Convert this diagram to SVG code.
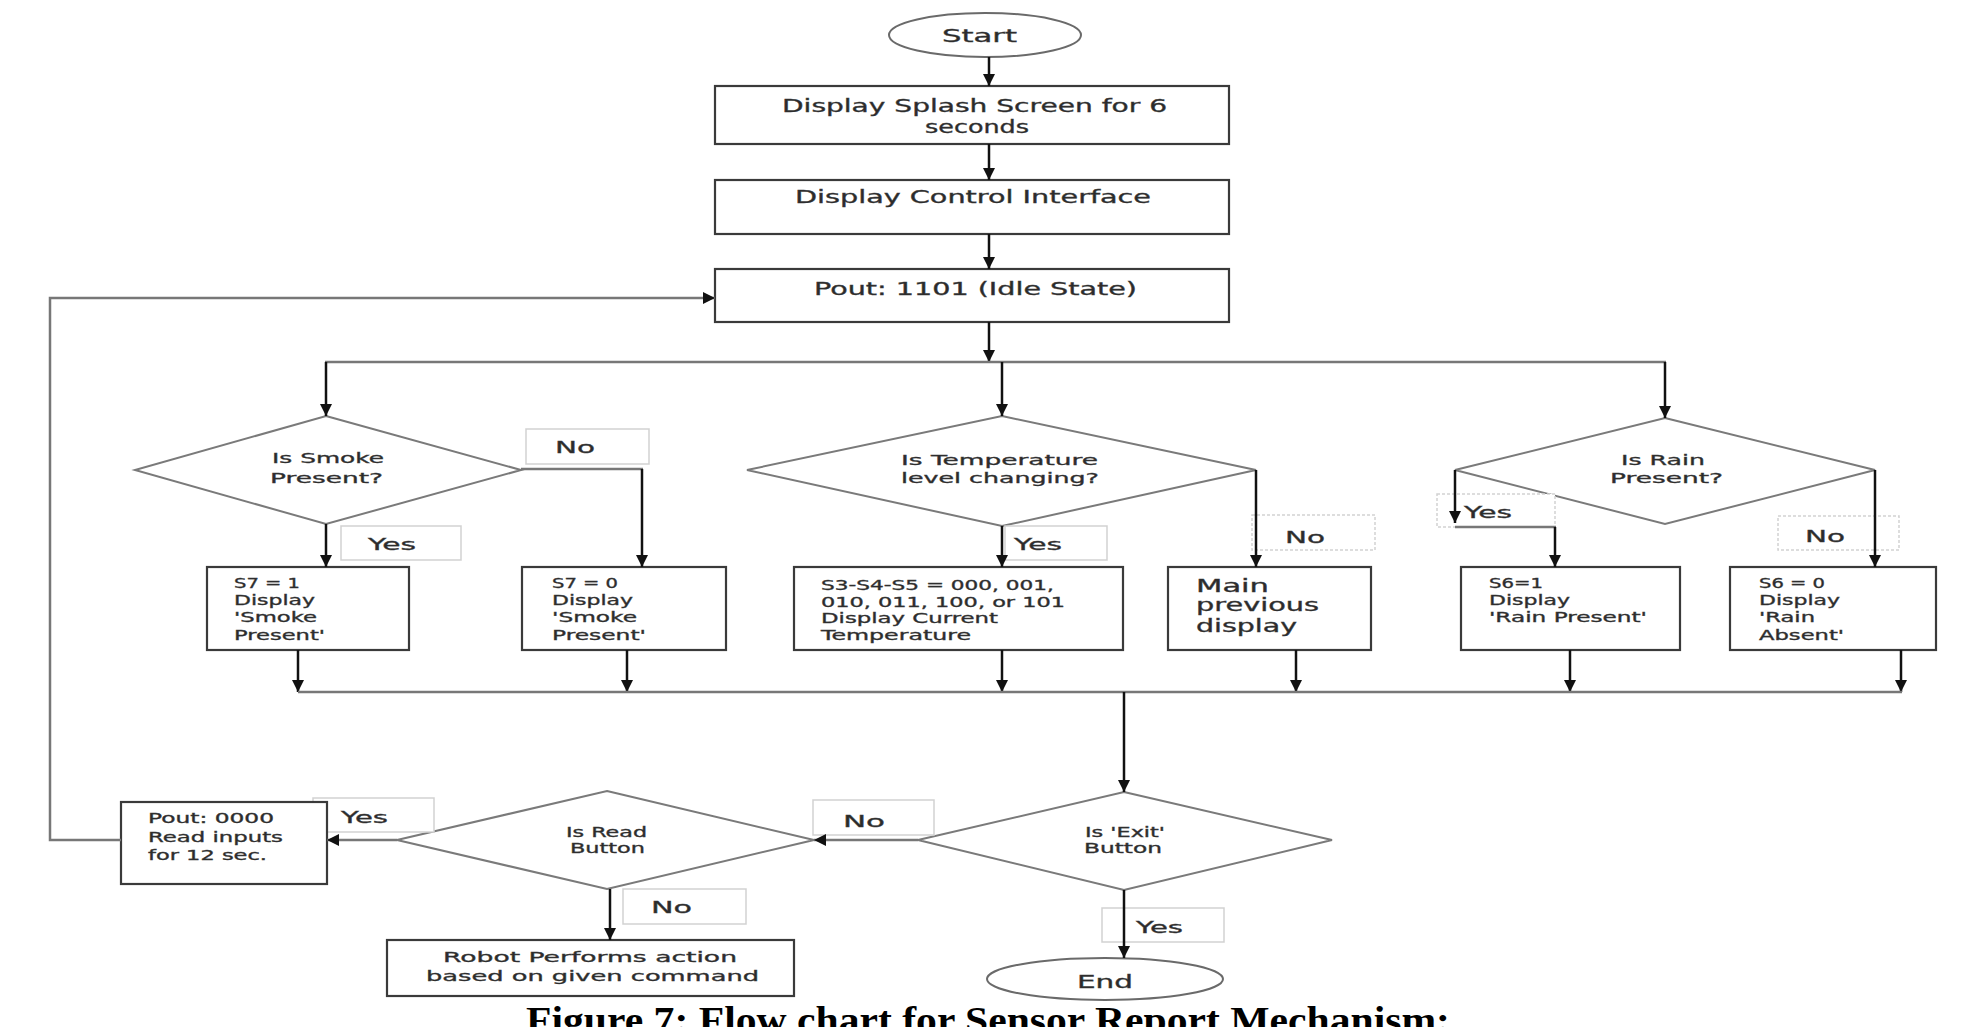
<svg xmlns="http://www.w3.org/2000/svg" width="1963" height="1027" viewBox="0 0 1963 1027">
<style>
.bg{fill:#ffffff}
.box{fill:#ffffff;stroke:#3a3a3a;stroke-width:2.2}
.dia{fill:#ffffff;stroke:#7a7a7a;stroke-width:2}
.term{fill:#ffffff;stroke:#6a6a6a;stroke-width:2}
.lbl{fill:#ffffff;stroke:#d2d2d2;stroke-width:1.5}
.t{font-family:"DejaVu Sans",Verdana,sans-serif;fill:#2b2b2b;stroke:#3a3a3a;stroke-width:0.35}
.s17{font-size:17px}
.s14{font-size:14.5px}
.s13{font-size:13.5px}
.s16{font-size:16px}
.v{stroke:#111111;stroke-width:2.5;fill:none}
.h{stroke:#777777;stroke-width:2.5;fill:none}
.cap{font-family:"Liberation Serif","Times New Roman",serif;font-weight:bold;font-size:38px;fill:#000000}
</style>
<defs>
<marker id="ah" markerUnits="userSpaceOnUse" markerWidth="13" markerHeight="13" refX="12" refY="6.5" orient="auto">
<path d="M0,0.5 L12,6.5 L0,12.5 z" fill="#111111"/>
</marker>
</defs>
<rect class="bg" x="0" y="0" width="1963" height="1027"/>

<g id="start">
<ellipse class="term" cx="985" cy="35" rx="96" ry="22"/>
<text class="t s17" x="942" y="42" textLength="75" lengthAdjust="spacingAndGlyphs">Start</text>
</g>
<g id="splash">
<rect class="box" x="715" y="86" width="514" height="58"/>
<text class="t s17" x="782" y="112" textLength="385" lengthAdjust="spacingAndGlyphs">Display Splash Screen for 6</text>
<text class="t s17" x="925" y="133" textLength="104" lengthAdjust="spacingAndGlyphs">seconds</text>
</g>
<g id="control">
<rect class="box" x="715" y="180" width="514" height="54"/>
<text class="t s17" x="795" y="203" textLength="356" lengthAdjust="spacingAndGlyphs">Display Control Interface</text>
</g>
<g id="idle">
<rect class="box" x="715" y="269" width="514" height="53"/>
<text class="t s17" x="814" y="295" textLength="323" lengthAdjust="spacingAndGlyphs">Pout: 1101 (Idle State)</text>
</g>

<g id="smoke-q">
<polygon class="dia" points="326,416 521,470 326,524 135,470"/>
<text class="t s14" x="272" y="463" textLength="112" lengthAdjust="spacingAndGlyphs">Is Smoke</text>
<text class="t s14" x="270" y="483" textLength="113" lengthAdjust="spacingAndGlyphs">Present?</text>
</g>
<g id="smoke-no-label">
<rect class="lbl" x="526" y="429" width="123" height="35"/>
<text class="t s16" x="555" y="453" textLength="40" lengthAdjust="spacingAndGlyphs">No</text>
</g>
<g id="smoke-yes-label">
<rect class="lbl" x="341" y="526" width="120" height="34"/>
<text class="t s16" x="368" y="550" textLength="48" lengthAdjust="spacingAndGlyphs">Yes</text>
</g>
<g id="s7-1">
<rect class="box" x="207" y="567" width="202" height="83"/>
<text class="t s13" x="234" y="588" textLength="66" lengthAdjust="spacingAndGlyphs">S7 = 1</text>
<text class="t s13" x="234" y="605" textLength="81" lengthAdjust="spacingAndGlyphs">Display</text>
<text class="t s13" x="234" y="622" textLength="83" lengthAdjust="spacingAndGlyphs">'Smoke</text>
<text class="t s13" x="234" y="640" textLength="91" lengthAdjust="spacingAndGlyphs">Present'</text>
</g>
<g id="s7-0">
<rect class="box" x="522" y="567" width="204" height="83"/>
<text class="t s13" x="552" y="588" textLength="66" lengthAdjust="spacingAndGlyphs">S7 = 0</text>
<text class="t s13" x="552" y="605" textLength="81" lengthAdjust="spacingAndGlyphs">Display</text>
<text class="t s13" x="552" y="622" textLength="85" lengthAdjust="spacingAndGlyphs">'Smoke</text>
<text class="t s13" x="552" y="640" textLength="94" lengthAdjust="spacingAndGlyphs">Present'</text>
</g>

<g id="temp-q">
<polygon class="dia" points="1002,416 1256,470 1002,526 747,470"/>
<text class="t s14" x="901" y="465" textLength="197" lengthAdjust="spacingAndGlyphs">Is Temperature</text>
<text class="t s14" x="901" y="483" textLength="198" lengthAdjust="spacingAndGlyphs">level changing?</text>
</g>
<g id="temp-yes-label">
<rect class="lbl" x="1005" y="526" width="102" height="34"/>
<text class="t s16" x="1014" y="550" textLength="48" lengthAdjust="spacingAndGlyphs">Yes</text>
</g>
<g id="temp-no-label">
<rect class="lbl" x="1252" y="515" width="123" height="35" stroke-dasharray="3 2"/>
<text class="t s16" x="1285" y="543" textLength="40" lengthAdjust="spacingAndGlyphs">No</text>
</g>
<g id="temp-box">
<rect class="box" x="794" y="567" width="329" height="83"/>
<text class="t s13" x="821" y="590" textLength="233" lengthAdjust="spacingAndGlyphs">S3-S4-S5 = 000, 001,</text>
<text class="t s13" x="821" y="607" textLength="244" lengthAdjust="spacingAndGlyphs">010, 011, 100, or 101</text>
<text class="t s13" x="821" y="623" textLength="177" lengthAdjust="spacingAndGlyphs">Display Current</text>
<text class="t s13" x="821" y="640" textLength="150" lengthAdjust="spacingAndGlyphs">Temperature</text>
</g>
<g id="main-prev">
<rect class="box" x="1168" y="567" width="203" height="83"/>
<text class="t s17" x="1196" y="592" textLength="73" lengthAdjust="spacingAndGlyphs">Main</text>
<text class="t s17" x="1196" y="611" textLength="123" lengthAdjust="spacingAndGlyphs">previous</text>
<text class="t s17" x="1196" y="632" textLength="101" lengthAdjust="spacingAndGlyphs">display</text>
</g>

<g id="rain-q">
<polygon class="dia" points="1665,418 1875,470 1665,524 1455,470"/>
<text class="t s14" x="1621" y="465" textLength="84" lengthAdjust="spacingAndGlyphs">Is Rain</text>
<text class="t s14" x="1610" y="483" textLength="113" lengthAdjust="spacingAndGlyphs">Present?</text>
</g>
<g id="rain-yes-label">
<rect class="lbl" x="1437" y="494" width="118" height="33" stroke-dasharray="3 2"/>
<text class="t s16" x="1464" y="518" textLength="48" lengthAdjust="spacingAndGlyphs">Yes</text>
</g>
<g id="rain-no-label">
<rect class="lbl" x="1778" y="516" width="121" height="34" stroke-dasharray="3 2"/>
<text class="t s16" x="1805" y="542" textLength="40" lengthAdjust="spacingAndGlyphs">No</text>
</g>
<g id="s6-1">
<rect class="box" x="1461" y="567" width="219" height="83"/>
<text class="t s13" x="1489" y="588" textLength="54" lengthAdjust="spacingAndGlyphs">S6=1</text>
<text class="t s13" x="1489" y="605" textLength="81" lengthAdjust="spacingAndGlyphs">Display</text>
<text class="t s13" x="1489" y="622" textLength="158" lengthAdjust="spacingAndGlyphs">'Rain Present'</text>
</g>
<g id="s6-0">
<rect class="box" x="1730" y="567" width="206" height="83"/>
<text class="t s13" x="1759" y="588" textLength="66" lengthAdjust="spacingAndGlyphs">S6 = 0</text>
<text class="t s13" x="1759" y="605" textLength="81" lengthAdjust="spacingAndGlyphs">Display</text>
<text class="t s13" x="1759" y="622" textLength="56" lengthAdjust="spacingAndGlyphs">'Rain</text>
<text class="t s13" x="1759" y="640" textLength="85" lengthAdjust="spacingAndGlyphs">Absent'</text>
</g>

<g id="exit-q">
<polygon class="dia" points="1124,792 1332,840 1124,890 918,840"/>
<text class="t s13" x="1085" y="837" textLength="80" lengthAdjust="spacingAndGlyphs">Is 'Exit'</text>
<text class="t s13" x="1084" y="853" textLength="78" lengthAdjust="spacingAndGlyphs">Button</text>
</g>
<g id="exit-no-label">
<rect class="lbl" x="813" y="800" width="121" height="35"/>
<text class="t s16" x="843" y="827" textLength="42" lengthAdjust="spacingAndGlyphs">No</text>
</g>
<g id="exit-yes-label">
<rect class="lbl" x="1102" y="908" width="122" height="34"/>
<text class="t s16" x="1136" y="933" textLength="47" lengthAdjust="spacingAndGlyphs">Yes</text>
</g>
<g id="end">
<ellipse class="term" cx="1105" cy="979" rx="118" ry="21"/>
<text class="t s17" x="1077" y="988" textLength="56" lengthAdjust="spacingAndGlyphs">End</text>
</g>

<g id="read-q">
<polygon class="dia" points="607,791 814,840 607,889 397,840"/>
<text class="t s13" x="566" y="837" textLength="81" lengthAdjust="spacingAndGlyphs">Is Read</text>
<text class="t s13" x="570" y="853" textLength="75" lengthAdjust="spacingAndGlyphs">Button</text>
</g>
<g id="read-yes-label">
<rect class="lbl" x="313" y="798" width="121" height="34"/>
<text class="t s16" x="341" y="823" textLength="47" lengthAdjust="spacingAndGlyphs">Yes</text>
</g>
<g id="read-no-label">
<rect class="lbl" x="623" y="889" width="123" height="35"/>
<text class="t s16" x="651" y="913" textLength="41" lengthAdjust="spacingAndGlyphs">No</text>
</g>
<g id="pout-0000">
<rect class="box" x="121" y="802" width="206" height="82"/>
<text class="t s13" x="148" y="823" textLength="126" lengthAdjust="spacingAndGlyphs">Pout: 0000</text>
<text class="t s13" x="148" y="842" textLength="135" lengthAdjust="spacingAndGlyphs">Read inputs</text>
<text class="t s13" x="148" y="860" textLength="119" lengthAdjust="spacingAndGlyphs">for 12 sec.</text>
</g>
<g id="robot">
<rect class="box" x="387" y="940" width="407" height="56"/>
<text class="t s14" x="443" y="962" textLength="294" lengthAdjust="spacingAndGlyphs">Robot Performs action</text>
<text class="t s14" x="426" y="981" textLength="333" lengthAdjust="spacingAndGlyphs">based on given command</text>
</g>

<g id="connectors">
<line class="v" x1="989" y1="57" x2="989" y2="86" marker-end="url(#ah)"/>
<line class="v" x1="989" y1="144" x2="989" y2="180" marker-end="url(#ah)"/>
<line class="v" x1="989" y1="234" x2="989" y2="269" marker-end="url(#ah)"/>
<line class="v" x1="989" y1="322" x2="989" y2="362" marker-end="url(#ah)"/>
<line class="h" x1="325" y1="362" x2="1666" y2="362"/>
<line class="v" x1="326" y1="362" x2="326" y2="416" marker-end="url(#ah)"/>
<line class="v" x1="1002" y1="362" x2="1002" y2="416" marker-end="url(#ah)"/>
<line class="v" x1="1665" y1="362" x2="1665" y2="418" marker-end="url(#ah)"/>
<line class="v" x1="326" y1="524" x2="326" y2="567" marker-end="url(#ah)"/>
<line class="h" x1="521" y1="469" x2="643" y2="469"/>
<line class="v" x1="642" y1="469" x2="642" y2="567" marker-end="url(#ah)"/>
<line class="v" x1="1002" y1="526" x2="1002" y2="567" marker-end="url(#ah)"/>
<line class="v" x1="1256" y1="470" x2="1256" y2="567" marker-end="url(#ah)"/>
<line class="v" x1="1455" y1="470" x2="1455" y2="523" marker-end="url(#ah)"/>
<line class="h" x1="1455" y1="527" x2="1556" y2="527"/>
<line class="v" x1="1555" y1="527" x2="1555" y2="567" marker-end="url(#ah)"/>
<line class="v" x1="1875" y1="470" x2="1875" y2="567" marker-end="url(#ah)"/>
<line class="v" x1="298" y1="650" x2="298" y2="692" marker-end="url(#ah)"/>
<line class="v" x1="627" y1="650" x2="627" y2="692" marker-end="url(#ah)"/>
<line class="v" x1="1002" y1="650" x2="1002" y2="692" marker-end="url(#ah)"/>
<line class="v" x1="1296" y1="650" x2="1296" y2="692" marker-end="url(#ah)"/>
<line class="v" x1="1570" y1="650" x2="1570" y2="692" marker-end="url(#ah)"/>
<line class="v" x1="1901" y1="650" x2="1901" y2="692" marker-end="url(#ah)"/>
<line class="h" x1="298" y1="692" x2="1902" y2="692"/>
<line class="v" x1="1124" y1="692" x2="1124" y2="792" marker-end="url(#ah)"/>
<line class="v" x1="1124" y1="890" x2="1124" y2="958" marker-end="url(#ah)"/>
<line class="h" x1="918" y1="840" x2="814" y2="840" marker-end="url(#ah)"/>
<line class="h" x1="397" y1="840" x2="327" y2="840" marker-end="url(#ah)"/>
<line class="v" x1="610" y1="889" x2="610" y2="940" marker-end="url(#ah)"/>
<path class="h" d="M121,840 L50,840 L50,298 L715,298" marker-end="url(#ah)"/>
</g>

<text class="cap" x="526" y="1033" textLength="924" lengthAdjust="spacingAndGlyphs">Figure 7: Flow chart for Sensor Report Mechanism:</text>
</svg>
